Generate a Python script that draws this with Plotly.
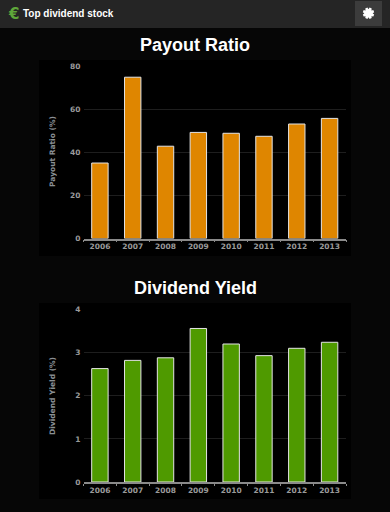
import math
import plotly.graph_objects as go

years = ["2006", "2007", "2008", "2009", "2010", "2011", "2012", "2013"]
payout_ratio = [35.0, 74.8, 42.8, 49.2, 48.8, 47.4, 53.1, 55.7]
dividend_yield = [2.63, 2.82, 2.88, 3.56, 3.20, 2.93, 3.10, 3.24]
payout_ticks = [0, 20, 40, 60, 80]
yield_ticks = [0, 1, 2, 3, 4]

W, H = 390, 512
L, R = 83.5, 346


def ydom(top, bottom):
    return [1 - bottom / H, 1 - top / H]


fig = go.Figure()
fig.add_trace(go.Bar(x=years, y=payout_ratio, xaxis="x", yaxis="y", width=0.5,
                     marker=dict(color="#DF8600", line=dict(color="#E4E4E4", width=1))))
fig.add_trace(go.Bar(x=years, y=dividend_yield, xaxis="x2", yaxis="y2", width=0.5,
                     marker=dict(color="#4F9A00", line=dict(color="#E4E4E4", width=1))))

tick = dict(family="DejaVu Sans", size=7.5, color="#9A9A9A", weight="bold")


def xaxis(anchor):
    return dict(domain=[L / W, R / W], anchor=anchor, type="category", automargin=False,
                tickson="boundaries", ticks="outside", ticklen=2, tickwidth=1,
                tickcolor="#8A8A8A", showline=True, linecolor="#8A8A8A", linewidth=1.5,
                showgrid=False, tickfont=tick, zeroline=False, fixedrange=True)


def yaxis(anchor, rng, ticks):
    return dict(domain=None, anchor=anchor, range=rng, tickmode="array", tickvals=ticks,
                automargin=False, gridcolor="#1E1E1E", gridwidth=1, zeroline=False,
                showline=False, tickfont=tick, ticklen=0, ticks="", fixedrange=True,
                ticklabelstandoff=2)


y1 = yaxis("x", [0, 80], payout_ticks)
y1["domain"] = ydom(66, 238.5)
y2 = yaxis("x2", [0, 4], yield_ticks)
y2["domain"] = ydom(309.5, 482)


def gear_path(cx, cy, r_out=5.8, r_in=4.3, r_hole=1.8, teeth=8):
    pts = []
    step = 2 * math.pi / teeth
    for i in range(teeth):
        a = i * step + step / 2
        for da, r in ((-0.30, r_in), (-0.17, r_out), (0.17, r_out), (0.30, r_in)):
            pts.append((cx + r * math.cos(a + da * step * 1.5), cy + r * math.sin(a + da * step * 1.5)))
    d = "M" + " L".join(f"{x:.2f},{y:.2f}" for x, y in pts) + " Z"
    d += f" M{cx + r_hole:.2f},{cy:.2f} A{r_hole},{r_hole} 0 1 0 {cx - r_hole:.2f},{cy:.2f}"
    d += f" A{r_hole},{r_hole} 0 1 0 {cx + r_hole:.2f},{cy:.2f} Z"
    return d


shapes = [
    dict(type="rect", xref="paper", yref="paper", x0=0, x1=1, y0=1 - 28 / H, y1=1,
         fillcolor="#252525", line_width=0, layer="below"),
    dict(type="rect", xref="paper", yref="paper", x0=39 / W, x1=351 / W,
         y0=1 - 256 / H, y1=1 - 60 / H, fillcolor="#000000", line_width=0, layer="below"),
    dict(type="rect", xref="paper", yref="paper", x0=39 / W, x1=351 / W,
         y0=1 - 499 / H, y1=1 - 303 / H, fillcolor="#000000", line_width=0, layer="below"),
    dict(type="rect", xref="paper", yref="paper", x0=355 / W, x1=382 / W,
         y0=1 - 26 / H, y1=1 - 1 / H, fillcolor="#3C3C3C", line_width=0, layer="below"),
    dict(type="path", xref="paper", yref="paper", xsizemode="pixel", ysizemode="pixel",
         xanchor=0, yanchor=1, path=gear_path(368.5, -13.3),
         fillcolor="#FFFFFF", fillrule="evenodd", line_width=0, layer="above"),
]


def label(text, x, y, size, color, family="Liberation Sans", bold=True, xanchor="center", angle=0):
    return dict(text=text, xref="paper", yref="paper", x=x / W, y=1 - y / H, showarrow=False,
                xanchor=xanchor, yanchor="middle", textangle=angle,
                font=dict(family=family, size=size, color=color,
                          weight="bold" if bold else "normal"))


annotations = [
    label("€", 6, 14, 15, "#5FA73A", family="DejaVu Sans", xanchor="left"),
    label("Top dividend stock", 20.5, 13, 10, "#FFFFFF", xanchor="left"),
    label("Payout Ratio", 195, 44.5, 18, "#FFFFFF"),
    label("Dividend Yield", 195, 287.5, 18, "#FFFFFF"),
    label("Payout Ratio (%)", 52, 152, 7.5, "#8A8F94", family="DejaVu Sans", angle=-90),
    label("Dividend Yield (%)", 52, 396, 7.5, "#8A8F94", family="DejaVu Sans", angle=-90),
]

fig.update_layout(
    width=W, height=H, margin=dict(l=0, r=0, t=0, b=0), autosize=False,
    paper_bgcolor="#060606", plot_bgcolor="#000000", showlegend=False, bargap=0.5,
    xaxis=xaxis("y"), xaxis2=xaxis("y2"), yaxis=y1, yaxis2=y2,
    shapes=shapes, annotations=annotations,
)
fig.write_html("out.html", config=dict(displayModeBar=False, responsive=False),
               post_script="document.body.style.margin='0';document.body.style.background='#060606';document.documentElement.style.overflow='hidden';")
